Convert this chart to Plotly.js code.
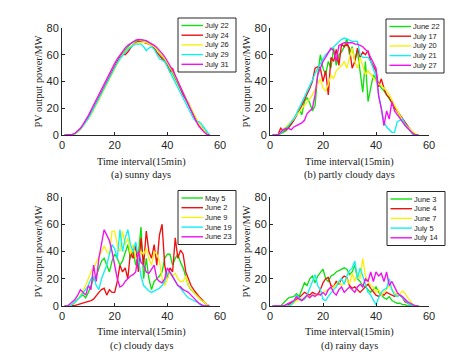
<!DOCTYPE html>
<html>
<head>
<meta charset="utf-8">
<script src="https://cdn.plot.ly/plotly-3.0.1.min.js"></script>
<style>
html,body{margin:0;padding:0;background:#fff;}
#chart{width:474px;height:360px;}
</style>
</head>
<body>
<div id="chart"></div>
<script>
// Time interval index (15 min)
const intervals = [1,2,3,4,5,6,7,8,9,10,11,12,13,14,15,16,17,18,19,20,21,22,23,24,25,26,27,28,29,30,31,32,33,34,35,36,37,38,39,40,41,42,43,44,45,46,47,48,49,50,51,52,53,54,55,56];

// (a) sunny days
const sunnyNames = ["July 22","July 24","July 26","July 29","July 31"];
const sunnyJul22 = [0,0,0,0.3,1,2.5,4.5,7,9.5,12.5, 16,19.5,23,27,31,35,39,43,47,51, 54.5,58,61,63.5,66,68,69.5,70.5,71,71.5, 71,70,69,67.5,66,64,62,59,56,53, 49.5,46,42,38,34,30,26,22,18,14, 11,8,5.5,3.5,1.5,0];
const sunnyJul24 = [0,0,0,0.3,1,2.5,4.5,7,10,13, 16.5,20,24,28,32,36,40,44,48,51.5, 55,58,60.5,60,62,65,67.5,69,70,70, 69.5,69,68,67,65,62,59,57,55,52, 47,50,44,40,35,30,27,24,19,15, 11,7.5,5,3,1,0];
const sunnyJul26 = [0,0,0,0.2,0.8,2,4,6.5,9,12, 15,18.5,22,26,30,34,38,42,46,50, 53.5,57,60,62.5,64.5,66,67.5,68.5,69,69.5, 69.5,69,68,67,66,64,62,59.5,57,54, 51,47.5,43.5,39.5,35.5,31.5,27.5,23.5,19.5,15.5, 12,8.5,5.5,3,1,0];
const sunnyJul29 = [0,0,0,0.3,1,2.5,4.5,7,9.5,12.5, 16,19.5,23,27,31,35,39,43,47,50.5, 54,57,59.5,62,64,65.5,67,68,68,68, 66,63,65,66,64,61,57,56,55,51, 47,43,40,36,32,28,24,19,16,12, 10,10,8,5,2.5,0];
const sunnyJul31 = [0,0,0,0.5,1.5,3,5,8,11,14.5, 18.5,22.5,26.5,30.5,34.5,38.5,42.5,46.5,50,53.5, 57,60,62.5,65,67,68.5,70,71,71.5,71.5, 71,70.5,69.5,68.5,67,65.5,63.5,61,58.5,55.5, 52,48.5,44.5,40.5,36,31.5,27,22.5,18,14, 10,6.5,4,2,0.5,0];

// (b) partly cloudy days
const partlyNames = ["June 22","July 17","July 20","July 21","July 27"];
const partlyJun22 = [0,0,0,1,2,3,5,8,11,15, 20,15,25,28,24,18,22,45,60,50, 45,55,50,65,52,60,62,66,72,60, 66,55,63,45,32,55,25,35,45,42, 38,35,33,30,28,25,22,18,14,10, 7,5,3,2,0,0];
const partlyJul17 = [0,0,0,5,3,4,6,8,11,14, 18,22,26,30,35,40,50,51,50,40, 48,30,58,55,64,52,68,66,68,65, 50,55,65,58,62,60,63,55,52,48, 36,42,35,30,28,24,20,18,15,12, 9,6,3,1,0,0];
const partlyJul20 = [0,0,0,2,4,6,8,10,12,15, 17,20,22,25,27,30,34,38,42,35, 33,38,45,42,48,50,52,55,50,58, 65,55,50,58,52,45,48,45,42,40, 38,37,35,33,30,26,22,18,14,11, 8,6,4,2,1,0];
const partlyJul21 = [0,0,0,1.5,3,5,7,9.5,12.5,16, 20,24,28,32,36,41,46,50,54,57, 60,62,64,66,68,70,71.5,72.5,72,71, 70,70,70,60,58,58,58,55,50,44, 30,19,10,6,4,2,2,10,11,12, 8,5,2,0,0,0];
const partlyJul27 = [0,0,0,2,4,5,5,4,6,7, 8,9,11,16,18,20,30,45,50,55, 58,62,65,63,55,67,68,69,69,69, 69,68,68,67,66,64,62,58,54,50, 29,20,7,18,12,25,18,15,12,10, 7,5,3,1,0,0];

// (c) cloudy days
const cloudyNames = ["May 5","June 2","June 9","June 19","June 23"];
const cloudyMay5  = [0,0,0,1,3,5,7,8,6,10, 15,20,22,28,33,35,30,25,33,38, 35,30,33,40,45,35,40,30,38,58, 20,35,20,12,18,20,22,25,35,38, 38,30,35,38,32,28,22,15,12,10, 8,6,4,3,1,0];
const cloudyJun2  = [0,0,0,0,0.5,1,1.5,2,2.5,3, 4,5,8,10,12,13,8,12,10,10, 18,30,25,28,20,40,35,45,25,50, 30,55,40,35,45,30,52,60,30,20, 28,25,50,35,41,38,25,20,15,12, 9,7,5,3,1,0];
const cloudyJun9  = [0,0,0,1.5,3,5,8,11,15,20, 25,28,32,35,40,44,40,38,55,55, 45,40,55,45,50,38,45,35,35,40, 38,42,35,30,40,38,33,20,15,20, 25,22,24,20,18,18,22,15,12,10, 8,6,4,3,1,0];
const cloudyJun19 = [0,0,0,1.5,3,5,7,9.5,12,15, 20,22,15,12,20,25,30,38,45,42, 35,56,40,50,56,45,40,47,35,22, 15,13,11,10,11,12,13,15,18,24, 25,22,18,15,13,10,8,6,5,4, 3,2,0,0,0,0];
const cloudyJun23 = [0,0,1.5,3,5,8,12,10,8,15, 12,30,18,35,45,56,52,48,40,30, 20,14,15,18,20,22,23,25,40,32, 30,25,24,27,30,20,18,17,20,28, 25,22,18,15,14,12,11,10,8,6, 4,2,1,0,0,0];

// (d) rainy days
const rainyNames = ["June 3","June 4","June 7","July 5","July 14"];
const rainyJun3  = [0,0,0,0,2,4,6,6.5,7,9, 7,12,17,15,20,22,17,22,25,27, 20,18,22,23,25,26,27,28,27,23, 25,30,20,18,15,14,12,10,12,14, 10,8,6,5,7,4,3,2,2,1, 1,0,0,0,0,0];
const rainyJun4  = [0,0,0,0,0,0,1,2,3.5,5, 6,8,10,9,8,10,9,8,12,17, 20,21,15,14,18,16,20,22,21,15, 13,14,12,10,12,14,16,13,10,8, 7,9,8,10,9,8,7,9,8,6, 3,2,1,0,0,0];
const rainyJun7  = [0,0,0,0,0,0,0,1,2,4, 4.5,5,5.5,6,7,8,8,8,9,10, 11,12,13,14,16,18,15,18,20,16, 24,18,25,20,35,22,18,15,14,10, 12,8,10,12,15,12,10,8,9,11, 9,6,3,1,0,0];
const rainyJul5  = [0,0,0,0,0,0,0,1,3,8, 6,4,5,8,13,18,23,15,12,5, 4,7,10,12,14,18,20,16,22,26, 28,33,20,28,22,15,10,8,5,1, 6,10,12,13,20,12,8,7,8,6, 4,2,1,0,0,0];
const rainyJul14 = [0,0,0,0,0,1,2,3,4,7, 5,4,6,8,6,8,7,9,8,10, 8,12,14,10,8,12,14,10,12,14, 12,10,14,16,14,20,18,25,18,25, 22,24,18,25,15,18,14,10,8,7, 5,3,2,1,0,0];

const seriesColors = ["#10e010","#f01010","#f8f010","#10f0f0","#f010f0"];
const subtitles = ["(a) sunny days","(b) partly cloudy days","(c) cloudy days","(d) rainy days"];
const xTitle = "Time interval(15min)";
const yTitle = "PV output power/MW";
const xTicks = [0,20,40,60];
const yTicks = [0,20,40,60,80];

const panels = [
  {names: sunnyNames,  data: [sunnyJul22,sunnyJul24,sunnyJul26,sunnyJul29,sunnyJul31], xa:"x",  ya:"y"},
  {names: partlyNames, data: [partlyJun22,partlyJul17,partlyJul20,partlyJul21,partlyJul27], xa:"x2", ya:"y2"},
  {names: cloudyNames, data: [cloudyMay5,cloudyJun2,cloudyJun9,cloudyJun19,cloudyJun23], xa:"x3", ya:"y3"},
  {names: rainyNames,  data: [rainyJun3,rainyJun4,rainyJun7,rainyJul5,rainyJul14], xa:"x4", ya:"y4"}
];

// geometry in pixels (W x H page)
const W = 474, H = 360;
const geo = [
  {l:62,  r:220, t:28,  b:135, legL:178, legT:18,  ytx:38,  xtY:162.5, subY:174.5},
  {l:270, r:429, t:28,  b:135, legL:386, legT:19,  ytx:246, xtY:162.5, subY:174.5},
  {l:62,  r:220, t:197, b:306, legL:178, legT:190.5, ytx:38,  xtY:332.3, subY:345.7},
  {l:270, r:429, t:197, b:306, legL:387, legT:191.5, ytx:246, xtY:332.3, subY:345.7}
];
const px = v => v / W;
const py = v => 1 - v / H;

const traces = [];
panels.forEach(p => {
  p.data.forEach((vals, i) => {
    traces.push({
      type: "scatter", mode: "lines",
      x: intervals, y: vals, name: p.names[i],
      xaxis: p.xa, yaxis: p.ya,
      line: {color: seriesColors[i], width: 1.35},
      showlegend: false, hoverinfo: "skip"
    });
  });
});

const axisColor = "#262626";
const tickFont = {family: "Liberation Sans, Arial, sans-serif", size: 11, color: axisColor};
const serifFont = {family: "Liberation Serif, Times New Roman, serif", size: 10.3, color: "#1a1a1a"};

const layout = {
  width: W, height: H,
  margin: {l:0, r:0, t:0, b:0},
  paper_bgcolor: "#ffffff", plot_bgcolor: "#ffffff",
  showlegend: false,
  shapes: [], annotations: []
};

geo.forEach((g, k) => {
  const sfx = k === 0 ? "" : String(k + 1);
  const xKey = "xaxis" + sfx, yKey = "yaxis" + sfx;
  layout[xKey] = {
    domain: [px(g.l), px(g.r)], anchor: "y" + sfx, range: [0, 60],
    tickvals: xTicks, ticks: "inside", ticklen: 3, tickwidth: 1, tickcolor: axisColor,
    showline: true, linecolor: axisColor, linewidth: 1, mirror: false,
    showgrid: false, zeroline: false, tickfont: tickFont, fixedrange: true
  };
  layout[yKey] = {
    domain: [py(g.b), py(g.t)], anchor: "x" + sfx, range: [0, 80],
    tickvals: yTicks, ticks: "inside", ticklen: 3, tickwidth: 1, tickcolor: axisColor,
    showline: true, linecolor: axisColor, linewidth: 1, mirror: false,
    showgrid: false, zeroline: false, tickfont: tickFont, fixedrange: true
  };
  const cx = (g.l + g.r) / 2, cy = (g.t + g.b) / 2;
  layout.annotations.push({xref:"paper", yref:"paper", x: px(cx), y: py(g.xtY), text: xTitle,
    showarrow:false, xanchor:"center", yanchor:"middle", font: serifFont});
  layout.annotations.push({xref:"paper", yref:"paper", x: px(cx), y: py(g.subY), text: subtitles[k],
    showarrow:false, xanchor:"center", yanchor:"middle", font: serifFont});
  layout.annotations.push({xref:"paper", yref:"paper", x: px(g.ytx), y: py(cy), text: yTitle, textangle: -90,
    showarrow:false, xanchor:"center", yanchor:"middle", font: serifFont});

  // legend box
  const lw = 58, lh = 54;
  layout.shapes.push({type:"rect", xref:"paper", yref:"paper",
    x0: px(g.legL), x1: px(g.legL + lw), y0: py(g.legT + lh), y1: py(g.legT),
    line: {color: axisColor, width: 1}, fillcolor: "#ffffff", layer: "above"});
  panels[k].names.forEach((nm, i) => {
    const ey = g.legT + 7.5 + i * 9.7;
    layout.shapes.push({type:"line", xref:"paper", yref:"paper",
      x0: px(g.legL + 3.5), x1: px(g.legL + 25), y0: py(ey), y1: py(ey),
      line: {color: seriesColors[i], width: 1.4}, layer: "above"});
    layout.annotations.push({xref:"paper", yref:"paper", x: px(g.legL + 26), y: py(ey), text: nm,
      showarrow:false, xanchor:"left", yanchor:"middle", borderpad: 0,
      font: {family: "Liberation Sans, Arial, sans-serif", size: 7.5, color: "#1a1a1a"}});
  });
});

Plotly.newPlot("chart", traces, layout, {staticPlot: true, displayModeBar: false});
</script>
</body>
</html>
